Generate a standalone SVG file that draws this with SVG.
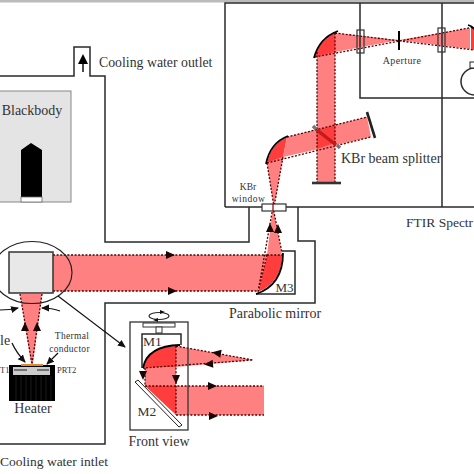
<svg xmlns="http://www.w3.org/2000/svg" width="474" height="474" viewBox="0 0 474 474">
<defs>
<marker id="ah" markerWidth="9" markerHeight="8" refX="7" refY="3.500" orient="auto" markerUnits="userSpaceOnUse"><path d="M0,0L8,3.500L0,7Z" fill="#111"/></marker>
<path id="tri" d="M-4,-4L5,0L-4,4Z" fill="#1a0505"/>
</defs>
<style>
text{font-family:"Liberation Serif",serif;fill:#333}
.w{fill:none;stroke:#2a2a2a;stroke-width:1.5}
.b{fill:#ff8080;stroke:none}
.d{fill:#ff3d3d;stroke:none}
.dot{fill:none;stroke:#500;stroke-width:1.3;stroke-dasharray:2 1.6}
.m{fill:none;stroke:#000;stroke-width:1.8}
.win{fill:#fff;stroke:#333;stroke-width:1.2}
.l{fill:none;stroke:#111;stroke-width:1.1}
</style>
<rect width="474" height="474" fill="#fff"/>
<rect x="0" y="0" width="474" height="2.500" fill="#bbb"/>
<g id="beams">
<polygon class="b" points="53,255 267,255 258,291 53,291"/>
<polygon class="b" points="267,255 282,255 273,207"/>
<path class="d" d="M258,292L267,255H282Q282,282 258,292Z"/>
<polygon class="b" points="20,294 42,294 33,363 31,363"/>
<polygon class="b" points="176,346 253,360 176,367"/>
<polygon class="b" points="145,368 176,367 176,386 145,386"/>
<path class="d" d="M143,368Q147,347 176,346V367Z"/>
<polygon class="b" points="176,386 264,386 264,415 176,415"/>
<polygon class="d" points="145,386 176,386 176,415"/>
<polygon class="b" points="267,163 283,157 274,207"/>
<path class="d" d="M267,163Q271,144 287,137L283,157Z"/>
<polygon class="b" points="317,52 335,52 335,183 317,183"/>
<polygon class="b" points="287,137 367,117 371,137 283,157"/>
<polygon class="d" points="317,130 335,125 335,143 317,149"/>
<path class="d" d="M315,57Q319,39 335,33V52Z"/>
<polygon class="b" points="335,33 399,40 335,52"/>
<polygon class="b" points="399,40 470,28 470,49"/>
<polygon class="d" points="471,27 474,27 474,50 471,49"/>
<path class="dot" d="M53,255H267M53,291H258M258,292L273,207L282,253M267,255L258,292M267,255H282"/>
<path class="dot" d="M20,294L32,364M42,294L32,364"/>
<path class="dot" d="M176,346L253,360L143,368M176,346V415M145,368V386M145,386H264M176,415H264"/>
<path class="dot" d="M267,163L274,207M283,157L274,207M287,137L367,117M267,163L371,137M317,52V183M335,33V183M335,33L474,50M315,57L474,27"/>
</g>
<g id="enclosure">
<path class="w" d="M0,76H74V47H90V76H105V242H249V207"/>
<path class="w" d="M298,207V241H315V303H105V444H0"/>
<path class="w" d="M225,207V3H474M225,207H474"/>
<path class="w" d="M360,3V98H474M442,3V207"/>
</g>
<g id="blackbody">
<rect x="-1" y="91" width="72" height="111" fill="#e4e4e4" stroke="#888"/>
<path fill="#000" d="M21,197V150L31,143L42,150V197Z"/>
<rect x="21" y="197" width="21" height="5" fill="#fff" stroke="#666" stroke-width=".8"/>
<text x="32" y="115" font-size="14" text-anchor="middle">Blackbody</text>
</g>
<g id="cavity">
<rect x="9" y="252" width="44" height="41" fill="#e8e8e8" stroke="#333" stroke-width="1.5"/>
<ellipse cx="32" cy="272.500" rx="40" ry="31" fill="none" stroke="#222" stroke-width="1.2"/>
</g>
<g id="heater">
<rect x="9" y="365" width="46" height="36" fill="#000"/>
<rect x="13" y="367" width="37" height="8" fill="#ccc"/>
<rect x="21" y="364" width="22" height="2" fill="#e08a30"/>
<path d="M14,370H27M37,370H49" stroke="#555" stroke-width="1.5"/>
<path d="M16,376V401M21,376V401M26,376V401M31,376V401M36,376V401M41,376V401M46,376V401M51,376V401" stroke="#2b2b2b" stroke-width=".6"/>
<text x="33" y="413" font-size="14" text-anchor="middle">Heater</text>
<text x="0" y="373" font-size="8.500">T1</text>
<text x="57" y="373" font-size="8.500">PRT2</text>
<text x="72" y="339" font-size="9.500" text-anchor="middle" letter-spacing=".3">Thermal</text>
<text x="69.500" y="352" font-size="9.500" text-anchor="middle" letter-spacing=".3">conductor</text>
<text x="0" y="345" font-size="14">le</text>
</g>
<g id="front-view">
<rect x="130" y="322" width="58" height="108" fill="none" stroke="#333" stroke-width="1.3"/>
<rect x="143" y="323" width="32" height="4" fill="#fff" stroke="#333"/>
<rect x="156" y="327" width="6" height="6" fill="#fff" stroke="#333"/>
<ellipse cx="159" cy="316" rx="10" ry="3.500" class="w" style="stroke-width:1.200"/>
<path d="M165,312L160,310V314ZM153,320L158,318V322Z" fill="#111"/>
<path class="w" d="M142,368V334H181V345"/>
<path class="m" d="M143,368Q147,346 180,345"/>
<polygon points="135,382 138,380 182,425 179,427" fill="#fff" stroke="#222"/>
<text x="152.500" y="346" font-size="13.500" text-anchor="middle">M1</text>
<text x="147" y="416" font-size="13.500" text-anchor="middle">M2</text>
<text x="159" y="446" font-size="14" text-anchor="middle">Front view</text>
</g>
<g id="m3">
<path class="w" d="M282,251H295V294H256"/>
<path class="m" d="M256,294Q283,285 283,253"/>
<text x="284.500" y="292" font-size="13" text-anchor="middle">M3</text>
<text x="229" y="318" font-size="14">Parabolic mirror</text>
</g>
<g id="ftir">
<rect x="262" y="204" width="24" height="7" class="win"/>
<path d="M273,204V211" stroke="#800" stroke-width="1.200"/>
<text x="248" y="190" font-size="9.500" text-anchor="middle">KBr</text>
<text x="248.500" y="202" font-size="9.500" text-anchor="middle" letter-spacing=".5">window</text>
<path class="m" d="M266,164Q270,143 288,136"/>
<path class="m" d="M314,58Q319,38 338,31"/>
<path d="M367,112L375,138" stroke="#222" stroke-width="2.600"/>
<path d="M312,183H341" stroke="#333" stroke-width="2.600"/>
<path d="M317,130L336,145" stroke="#c41a1a" stroke-width="3.500"/>
<path d="M313,126L316,129M337,145L340,148" stroke="#777" stroke-width="3.500"/>
<rect x="357" y="30" width="7" height="23" class="win" fill-opacity="0"/>
<rect x="438" y="28" width="7" height="24" class="win" fill-opacity="0"/>
<path d="M399,31V50" stroke="#000" stroke-width="2"/>
<text x="402" y="64" font-size="10" text-anchor="middle" letter-spacing=".4">Aperture</text>
<text x="341" y="163" font-size="14">KBr beam splitter</text>
<text x="406" y="227" font-size="13.500">FTIR Spectr</text>
<circle cx="474.500" cy="81.500" r="13.500" class="w"/>
<rect x="470" y="62" width="6" height="6" fill="#fff" stroke="#222"/>
<path class="m" d="M468,25Q472,26 474,29"/>
</g>
<g id="connectors">
<path class="l" d="M83,72V60" style="stroke-width:1.500"/>
<path d="M83,54L78,64H88Z" fill="#000"/>
<path class="l" d="M58,296L125,347" marker-end="url(#ah)"/>
<path class="l" d="M0,310Q10,310 18,308" marker-end="url(#ah)"/>
<path class="l" d="M60,311Q52,308 42,308" marker-end="url(#ah)"/>
<path class="l" d="M12,343Q16,352 25,362" style="stroke-width:1.300" marker-end="url(#ah)"/>
<path class="l" d="M58,353L47,364" style="stroke-width:1.300" marker-end="url(#ah)"/>
<use href="#tri" transform="translate(25,327) rotate(-90)"/>
<use href="#tri" transform="translate(37,327) rotate(-90)"/>
<use href="#tri" transform="translate(270,228) rotate(-90)"/>
<use href="#tri" transform="translate(278,229) rotate(-90)"/>
<use href="#tri" transform="translate(170,255)"/>
<use href="#tri" transform="translate(172,291)"/>
<use href="#tri" transform="translate(217,353) rotate(190)"/>
<use href="#tri" transform="translate(209,364) rotate(175)"/>
<use href="#tri" transform="translate(143,375) rotate(90)"/>
<use href="#tri" transform="translate(176,379) rotate(90)"/>
<use href="#tri" transform="translate(212,386)"/>
<use href="#tri" transform="translate(213,416)"/>
</g>
<text x="99" y="67" font-size="13.800">Cooling water outlet</text>
<text x="0" y="466" font-size="13.500">Cooling water intlet</text>
</svg>
